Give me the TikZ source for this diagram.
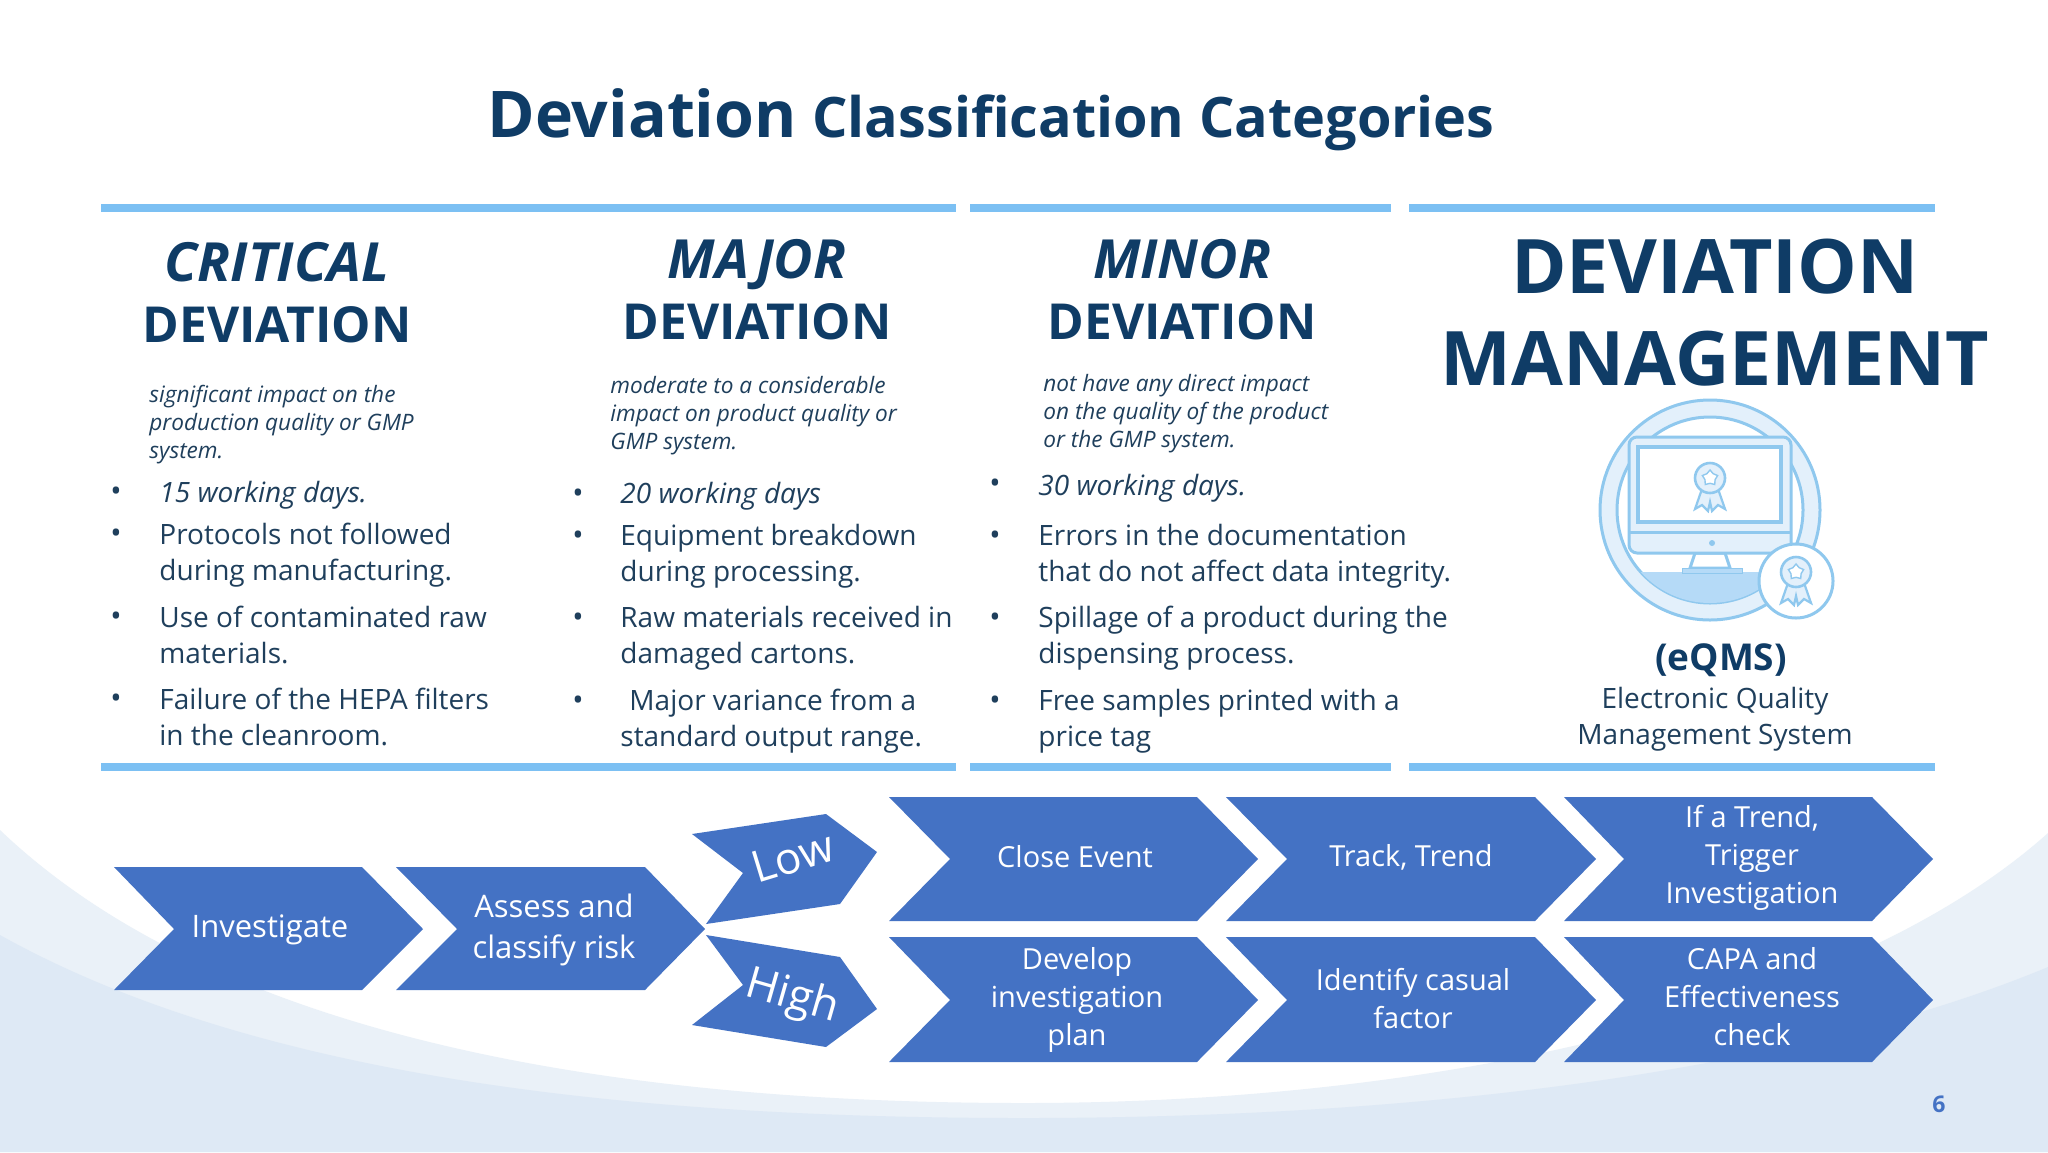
\documentclass[tikz,border=0pt]{standalone}
\usepackage{fontspec}
\setmainfont{Open Sans}
\usetikzlibrary{shapes.geometric}
\definecolor{navy}{HTML}{0F3C66}
\definecolor{inktext}{HTML}{1F3F5C}
\definecolor{barblue}{HTML}{7CC0F3}
\definecolor{chevblue}{HTML}{4472C4}
\definecolor{wavelight}{HTML}{EAF1F8}
\definecolor{wavedark}{HTML}{DEE9F5}
\definecolor{iconline}{HTML}{8FC8EE}
\definecolor{iconfill}{HTML}{E3F0FB}
\definecolor{iconfloor}{HTML}{B5DAF7}
\tikzset{
  bar/.style={fill=barblue,draw=none},
  heading/.style={font=\fontsize{24.8}{30.5}\selectfont\bfseries,text=navy,align=center,inner sep=0pt},
  descr/.style={font=\fontsize{11.3}{14}\selectfont\itshape,text=inktext,align=left,anchor=west,inner sep=0pt},
  item/.style={font=\fontsize{14}{18}\selectfont,text=inktext,align=left,anchor=west,inner sep=0pt},
  dot/.style={font=\fontsize{15}{15}\selectfont,text=inktext,inner sep=0pt},
  chev/.style={fill=chevblue,draw=none},
  chevtext/.style={font=\fontsize{14.5}{19}\selectfont,text=white,align=center,inner sep=0pt},
  chevwide/.style={chevtext,font=\fontsize{15.5}{20.5}\selectfont},
  chevturn/.style={chevtext,font=\fontsize{22}{22}\selectfont},
  iconring/.style={draw=iconline,line width=1.5pt},
}
% small rosette of the icon
\newcommand{\rosette}[2]{
  \filldraw[fill=iconfill,draw=iconline,line width=1.1pt] (#1-7,#2+8) -- (#1-15,#2+31) -- (#1-8,#2+27) -- (#1-2,#2+33) -- (#1,#2+24) -- (#1+2,#2+33) -- (#1+8,#2+27) -- (#1+15,#2+31) -- (#1+7,#2+8) -- cycle;
  \filldraw[fill=iconfill,draw=iconline,line width=1.3pt] (#1,#2) circle (15);
  \node[star,star points=5,fill=white,draw=iconline,line width=.7pt,minimum size=8pt,inner sep=0pt] at (#1,#2) {};
}
\begin{document}
\begin{tikzpicture}[x=0.5pt,y=-0.5pt]
  \useasboundingbox (0,0) rectangle (2048,1152);
  %fondo
  \fill[white] (0,0) rectangle (2048,1152);
  \fill[wavelight] (0,830) .. controls (220,1040) and (620,1103) .. (1024,1103) .. controls (1450,1103) and (1850,1010) .. (2048,833) -- (2048,1152) -- (0,1152) -- cycle;
  \fill[wavedark] (0,935) .. controls (260,1080) and (640,1118) .. (1024,1118) .. controls (1430,1118) and (1800,1070) .. (2048,967) -- (2048,1152) -- (0,1152) -- cycle;

  %titolo
  \node[font=\fontsize{32.2}{33}\selectfont\bfseries,text=navy,anchor=base west,inner sep=0pt] (titleA) at (487,137) {Deviation};
  \node[font=\fontsize{27.9}{33}\selectfont\bfseries,text=navy,anchor=base west,inner sep=0pt] (titleB) at (812,137) {Classification Categories};

  %barre
  \foreach \lx/\rx in {101/956,970/1391,1409/1935} {
    \fill[bar] (\lx,204) rectangle (\rx,212);
    \fill[bar] (\lx,763) rectangle (\rx,771);
  }

  %critical
  \node[heading] (critHead) at (277,293) {\fontsize{27}{30.5}\selectfont\textit{CRITICAL}\\DEVIATION};
  \node[descr] (critDescr) at (149,425) {significant impact on the\\production quality or GMP\\system.};
  \node[item] (crit0) at (159,495) {\textit{15 working days.}};
  \node[item] (crit1) at (159,555) {Protocols not followed\\during manufacturing.};
  \node[item] (crit2) at (159,635) {Use of contaminated raw\\materials.};
  \node[item] (crit3) at (159,717) {Failure of the HEPA filters\\in the cleanroom.};
  \foreach \y in {494,536,619,701} \node[dot] at (116,\y) {•};

  %major
  \node[heading] (majHead) at (757,290) {\fontsize{27}{30.5}\selectfont\textit{MAJOR}\\DEVIATION};
  \node[descr] (majDescr) at (610,416) {moderate to a considerable\\impact on product quality or\\GMP system.};
  \node[item] (maj0) at (620,496) {\textit{20 working days}};
  \node[item] (maj1) at (620,556) {Equipment breakdown\\during processing.};
  \node[item] (maj2) at (620,638) {Raw materials received in\\damaged cartons.};
  \node[item] (maj3) at (620,721) {\hspace*{4.5pt}Major variance from a\\standard output range.};
  \foreach \y in {496,538,620,703} \node[dot] at (578,\y) {•};

  %minor
  \node[heading] (minHead) at (1182,290) {\fontsize{27}{30.5}\selectfont\textit{MINOR}\\DEVIATION};
  \node[descr] (minDescr) at (1043,414) {not have any direct impact\\on the quality of the product\\or the GMP system.};
  \node[item] (min0) at (1038,488) {\textit{30 working days.}};
  \node[item] (min1) at (1038,556) {Errors in the documentation\\that do not affect data integrity.};
  \node[item] (min2) at (1038,638) {Spillage of a product during the\\dispensing process.};
  \node[item] (min3) at (1038,721) {Free samples printed with a\\price tag};
  \foreach \y in {486,538,620,703} \node[dot] at (995,\y) {•};

  %management
  \node[font=\fontsize{37.6}{46}\selectfont\bfseries,text=navy,align=center,inner sep=0pt] (mgmtHead) at (1715,313) {DEVIATION\\MANAGEMENT};

  %icona
  \filldraw[fill=iconfill,iconring] (1710,510) circle (110);
  \filldraw[fill=white,iconring] (1710,510) circle (93);
  \begin{scope}
    \clip (1710,510) circle (93);
    \fill[iconfloor] (1600,572) rectangle (1820,610);
  \end{scope}
  \filldraw[fill=white,iconring] (1695,553) -- (1725,553) -- (1730,568) -- (1690,568) -- cycle;
  \filldraw[fill=iconfloor,draw=iconline] (1682,568) rectangle (1742,573);
  \filldraw[fill=iconfill,iconring,rounded corners=4pt] (1629,437) rectangle (1791,553);
  \draw[iconring] (1629,532) -- (1791,532);
  \filldraw[fill=white,draw=iconline,line width=2pt] (1638,447) rectangle (1781,522);
  \fill[iconline] (1712,543) circle (3);
  \rosette{1710}{478}
  \filldraw[fill=white,iconring] (1796,581) circle (37);
  \rosette{1796}{572}

  \node[font=\fontsize{18.5}{20}\selectfont\bfseries,text=navy,inner sep=0pt] (eqmsName) at (1721,660) {(eQMS)};
  \node[font=\fontsize{14}{18}\selectfont,text=inktext,align=center,inner sep=0pt] (eqmsText) at (1715,719) {Electronic Quality\\Management System};

  %frecce
  \foreach \lx/\nx/\rx/\tx/\ty/\my/\by in {
    114/174/362/423/867/929/990,
    396/457/645/705/867/929/990,
    889/950/1197/1258/797/859/921,
    1226/1287/1535/1596/797/859/921,
    1564/1624/1872/1933/797/859/921,
    889/950/1197/1258/937/1000/1062,
    1226/1287/1535/1596/937/1000/1062,
    1564/1624/1872/1933/937/1000/1062}
    \fill[chev] (\lx,\ty) -- (\rx,\ty) -- (\tx,\my) -- (\rx,\by) -- (\lx,\by) -- (\nx,\my) -- cycle;
  \fill[chev] (692,834) -- (826,814) -- (877,852) -- (840,904) -- (706,924) -- (743,873) -- cycle;
  \fill[chev] (706,935) -- (840,957) -- (877,1009) -- (826,1047) -- (692,1025) -- (743,985) -- cycle;

  \node[chevwide] (investigate) at (270,930) {Investigate};
  \node[chevwide] (assess) at (554,930) {Assess and\\classify risk};
  \node[chevturn,rotate=17] (low) at (793,857) {Low};
  \node[chevturn,rotate=-16] (high) at (792,998) {High};
  \node[chevtext] (close) at (1075,857) {Close Event};
  \node[chevtext] (track) at (1411,857) {Track, Trend};
  \node[chevtext] (trigger) at (1752,858) {If a Trend,\\Trigger\\Investigation};
  \node[chevtext] (develop) at (1077,1000) {Develop\\investigation\\plan};
  \node[chevtext] (identify) at (1413,999) {Identify casual\\factor};
  \node[chevtext] (capa) at (1752,997) {CAPA and\\Effectiveness\\check};

  \node[font=\fontsize{11.5}{12}\selectfont\bfseries,text=chevblue,inner sep=0pt] (pageNum) at (1939,1104) {6};
\end{tikzpicture}
\end{document}
